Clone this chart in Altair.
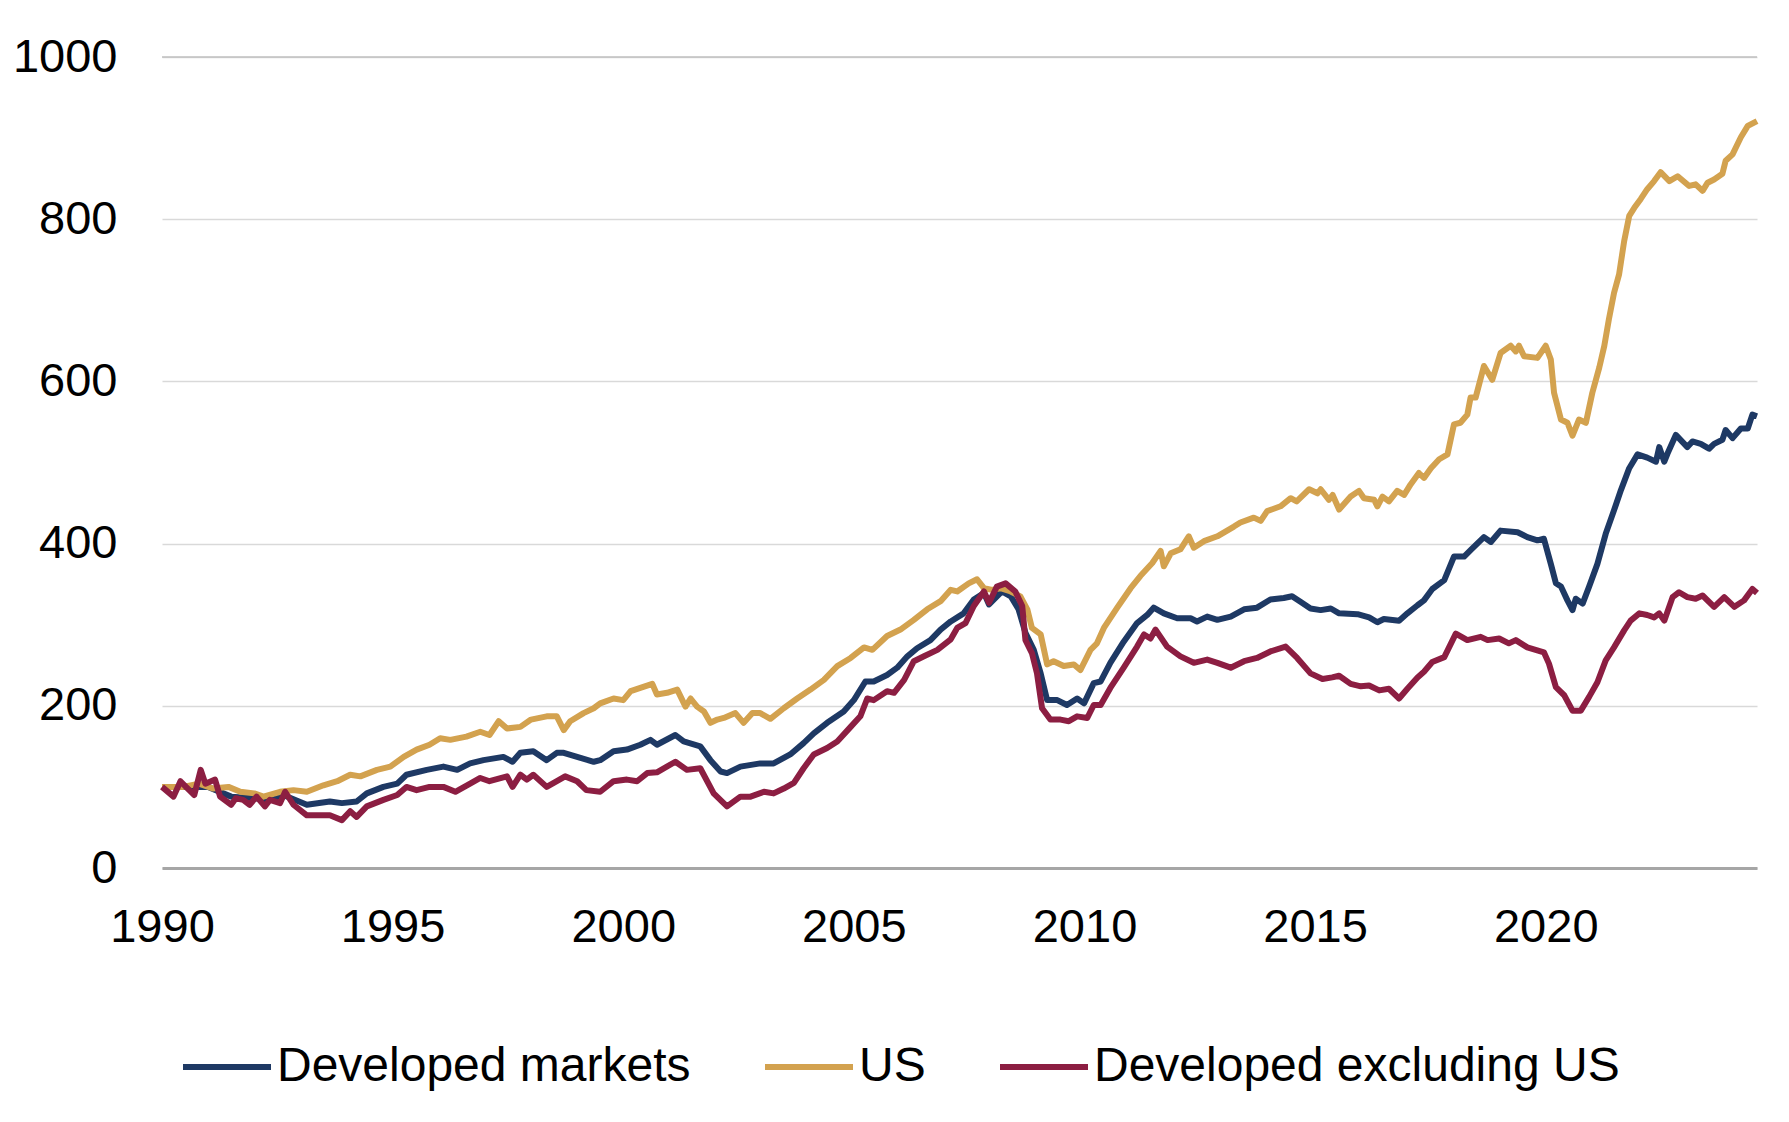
import pandas as pd
import altair as alt

# values (decimal year, index level)
dm_t = [1990.00, 1990.50, 1991.00, 1991.50, 1992.00, 1992.40, 1992.63, 1993.14, 1993.64, 1993.90,
        1994.22, 1994.44, 1994.80, 1995.10, 1995.30, 1995.74, 1996.10, 1996.40, 1996.68, 1996.97,
        1997.40, 1997.60, 1997.77, 1998.05, 1998.34, 1998.56, 1998.71, 1999.00, 1999.36, 1999.50,
        1999.79, 2000.08, 2000.37, 2000.59, 2000.73, 2001.13, 2001.31, 2001.67, 2001.89, 2002.11,
        2002.25, 2002.54, 2002.97, 2003.26, 2003.62, 2003.91, 2004.13, 2004.42, 2004.78, 2005.00,
        2005.25, 2005.43, 2005.72, 2005.94, 2006.16, 2006.37, 2006.66, 2006.88, 2007.10, 2007.38,
        2007.60, 2007.82, 2007.93, 2008.21, 2008.40, 2008.57, 2008.72, 2008.90, 2009.05, 2009.19,
        2009.41, 2009.62, 2009.84, 2009.99, 2010.20, 2010.35, 2010.56, 2010.85, 2011.14, 2011.36,
        2011.50, 2011.72, 2012.01, 2012.30, 2012.44, 2012.66, 2012.88, 2013.17, 2013.46, 2013.74,
        2014.03, 2014.32, 2014.50, 2014.69, 2014.90, 2015.12, 2015.34, 2015.52, 2015.92, 2016.17,
        2016.35, 2016.49, 2016.82, 2017.00, 2017.22, 2017.36, 2017.54, 2017.80, 2018.01, 2018.23,
        2018.37, 2018.66, 2018.81, 2019.02, 2019.39, 2019.60, 2019.82, 2019.96, 2020.11, 2020.22,
        2020.33, 2020.47, 2020.58, 2020.65, 2020.80, 2020.94, 2021.12, 2021.30, 2021.48, 2021.63,
        2021.81, 2021.99, 2022.20, 2022.39, 2022.46, 2022.57, 2022.64, 2022.82, 2023.07, 2023.18,
        2023.36, 2023.54, 2023.65, 2023.83, 2023.90, 2024.05, 2024.23, 2024.38, 2024.48, 2024.58]
dm_v = [100, 100, 100, 88, 86, 84, 90, 78, 82, 80,
        82, 92, 100, 104, 115, 121, 125, 121, 129, 133,
        137, 131, 142, 144, 133, 142, 142, 137, 131, 133,
        144, 146, 152, 158, 152, 164, 156, 150, 133, 119,
        117, 125, 129, 129, 140, 154, 166, 179, 193, 207,
        230, 230, 238, 247, 261, 271, 281, 294, 304, 314,
        331, 339, 325, 341, 335, 319, 290, 269, 240, 207,
        207, 201, 209, 203, 228, 230, 253, 279, 302, 312,
        321, 314, 308, 308, 304, 310, 306, 310, 319, 321,
        331, 333, 335, 328, 320, 318, 320, 314, 313, 309,
        303, 307, 305, 314, 324, 330, 344, 355, 384, 384,
        392, 408, 402, 416, 414, 408, 404, 406, 375, 351,
        347, 330, 318, 332, 326, 347, 375, 412, 441, 466,
        493, 510, 506, 501, 519, 501, 511, 534, 519, 526,
        523, 517, 523, 528, 540, 530, 542, 542, 559, 557]

us_t = [1990.00, 1990.46, 1990.80, 1991.10, 1991.44, 1991.70, 1992.00, 1992.20, 1992.56, 1992.85,
        1993.14, 1993.50, 1993.80, 1994.08, 1994.30, 1994.66, 1994.95, 1995.24, 1995.52, 1995.80,
        1996.03, 1996.25, 1996.60, 1996.90, 1997.10, 1997.30, 1997.48, 1997.77, 1998.00, 1998.34,
        1998.56, 1998.71, 1998.85, 1999.14, 1999.36, 1999.50, 1999.79, 2000.00, 2000.16, 2000.37,
        2000.63, 2000.73, 2000.95, 2001.17, 2001.35, 2001.46, 2001.60, 2001.75, 2001.89, 2002.04,
        2002.18, 2002.43, 2002.61, 2002.80, 2002.97, 2003.19, 2003.48, 2003.77, 2004.06, 2004.35,
        2004.64, 2004.93, 2005.22, 2005.40, 2005.72, 2006.01, 2006.30, 2006.59, 2006.88, 2007.10,
        2007.24, 2007.49, 2007.67, 2007.82, 2008.00, 2008.18, 2008.40, 2008.61, 2008.76, 2008.86,
        2009.05, 2009.19, 2009.33, 2009.55, 2009.77, 2009.91, 2010.13, 2010.27, 2010.42, 2010.71,
        2011.00, 2011.21, 2011.47, 2011.65, 2011.72, 2011.87, 2012.08, 2012.26, 2012.37, 2012.59,
        2012.88, 2013.24, 2013.38, 2013.67, 2013.82, 2013.96, 2014.25, 2014.47, 2014.60, 2014.87,
        2015.05, 2015.12, 2015.30, 2015.38, 2015.52, 2015.77, 2015.95, 2016.06, 2016.28, 2016.35,
        2016.46, 2016.60, 2016.78, 2016.93, 2017.07, 2017.25, 2017.36, 2017.51, 2017.69, 2017.87,
        2018.01, 2018.15, 2018.30, 2018.37, 2018.48, 2018.66, 2018.84, 2019.02, 2019.24, 2019.35,
        2019.42, 2019.53, 2019.82, 2020.00, 2020.11, 2020.18, 2020.33, 2020.47, 2020.58, 2020.72,
        2020.87, 2021.01, 2021.16, 2021.27, 2021.37, 2021.48, 2021.59, 2021.70, 2021.81, 2021.92,
        2022.06, 2022.20, 2022.35, 2022.49, 2022.68, 2022.86, 2023.11, 2023.25, 2023.40, 2023.51,
        2023.65, 2023.83, 2023.90, 2024.05, 2024.23, 2024.38, 2024.58]
us_v = [100, 100, 104, 98, 100, 94, 92, 88, 94, 96,
        94, 102, 107, 115, 113, 121, 125, 137, 146, 152,
        160, 158, 162, 168, 164, 181, 172, 174, 183, 187,
        187, 170, 181, 191, 197, 203, 209, 207, 218, 222,
        227, 214, 216, 220, 199, 209, 199, 193, 179, 183,
        185, 191, 179, 191, 191, 184, 197, 209, 220, 232,
        249, 259, 272, 269, 286, 294, 306, 319, 329, 343,
        341, 351, 356, 345, 343, 345, 341, 335, 319, 296,
        288, 251, 255, 249, 251, 244, 269, 277, 296, 321,
        345, 360, 376, 391, 372, 388, 393, 409, 395, 403,
        409, 421, 426, 432, 428, 440, 446, 456, 452, 467,
        462, 467, 454, 460, 442, 458, 465, 456, 454, 446,
        458, 452, 465, 460, 473, 487, 481, 493, 504, 510,
        547, 549, 559, 580, 580, 619, 602, 635, 644, 637,
        644, 631, 629, 644, 627, 586, 553, 549, 533, 553,
        549, 586, 617, 644, 677, 709, 732, 773, 804, 814,
        825, 837, 847, 858, 847, 853, 841, 843, 835, 845,
        849, 856, 872, 880, 901, 915, 921]

ex_t = [1990.00, 1990.25, 1990.40, 1990.52, 1990.70, 1990.84, 1990.94, 1991.15, 1991.26, 1991.50,
        1991.60, 1991.76, 1991.90, 1992.05, 1992.23, 1992.34, 1992.56, 1992.67, 1992.85, 1993.14,
        1993.64, 1993.90, 1994.08, 1994.22, 1994.44, 1994.80, 1995.10, 1995.30, 1995.52, 1995.80,
        1996.10, 1996.36, 1996.68, 1996.90, 1997.10, 1997.48, 1997.60, 1997.77, 1997.91, 1998.05,
        1998.34, 1998.56, 1998.74, 1999.00, 1999.20, 1999.50, 1999.79, 2000.08, 2000.30, 2000.52,
        2000.73, 2001.13, 2001.38, 2001.67, 2001.96, 2002.25, 2002.54, 2002.76, 2003.05, 2003.26,
        2003.48, 2003.70, 2003.91, 2004.13, 2004.42, 2004.64, 2004.93, 2005.14, 2005.29, 2005.43,
        2005.72, 2005.87, 2006.09, 2006.30, 2006.52, 2006.81, 2007.10, 2007.24, 2007.42, 2007.60,
        2007.82, 2007.93, 2008.10, 2008.29, 2008.50, 2008.65, 2008.72, 2008.86, 2008.97, 2009.08,
        2009.26, 2009.48, 2009.66, 2009.84, 2010.06, 2010.20, 2010.35, 2010.56, 2010.85, 2011.14,
        2011.29, 2011.43, 2011.54, 2011.79, 2012.08, 2012.37, 2012.66, 2012.88, 2013.17, 2013.46,
        2013.74, 2014.03, 2014.36, 2014.61, 2014.90, 2015.16, 2015.37, 2015.52, 2015.77, 2015.99,
        2016.17, 2016.39, 2016.60, 2016.82, 2017.00, 2017.22, 2017.36, 2017.54, 2017.80, 2018.05,
        2018.30, 2018.59, 2018.74, 2018.99, 2019.20, 2019.35, 2019.60, 2019.96, 2020.07, 2020.22,
        2020.40, 2020.58, 2020.76, 2020.94, 2021.12, 2021.30, 2021.48, 2021.70, 2021.84, 2022.03,
        2022.20, 2022.35, 2022.46, 2022.57, 2022.75, 2022.89, 2023.07, 2023.25, 2023.40, 2023.65,
        2023.87, 2024.09, 2024.30, 2024.48, 2024.58]
ex_v = [100, 88, 107, 100, 90, 121, 104, 109, 88, 78,
        86, 84, 78, 88, 76, 84, 80, 94, 78, 65,
        65, 59, 70, 63, 76, 84, 90, 100, 96, 100,
        100, 94, 104, 111, 107, 113, 100, 115, 109, 115,
        100, 107, 113, 107, 96, 94, 107, 109, 107, 117,
        118, 131, 121, 123, 92, 76, 88, 88, 94, 92,
        98, 105, 123, 140, 148, 156, 174, 187, 209, 207,
        218, 216, 232, 255, 261, 269, 282, 296, 302, 323,
        341, 327, 347, 351, 341, 323, 281, 265, 240, 197,
        183, 183, 181, 187, 185, 201, 201, 222, 247, 273,
        288, 283, 294, 273, 261, 253, 257, 253, 247, 255,
        259, 267, 273, 259, 240, 233, 235, 237, 227, 224,
        225, 219, 221, 209, 221, 235, 242, 254, 260, 289,
        281, 285, 281, 283, 277, 281, 272, 266, 252, 223,
        213, 194, 194, 211, 229, 256, 272, 293, 305, 314,
        312, 309, 314, 305, 334, 340, 334, 332, 336, 322,
        334, 322, 330, 344, 339]

names = ["Developed markets", "US", "Developed excluding US"]
colors = ["#1e3964", "#d3a24f", "#8c1e42"]
x_ticks = [1990, 1995, 2000, 2005, 2010, 2015, 2020]
y_ticks = [0, 200, 400, 600, 800, 1000]

frames = []
for name, t, v in zip(names, [dm_t, us_t, ex_t], [dm_v, us_v, ex_v]):
    frames.append(pd.DataFrame({"year": t, "value": v, "series": name}))
df = pd.concat(frames, ignore_index=True)

font = "Liberation Sans"

y_axis = alt.Axis(
    values=y_ticks,
    format="d",
    title=None,
    ticks=False,
    domain=False,
    gridColor="#d9d9d9",
    gridWidth=1.5,
    labelFontSize=47,
    labelPadding=45,
    labelColor="#000000",
    labelFlush=False,
)

lines = (
    alt.Chart(df)
    .mark_line(strokeWidth=6, strokeJoin="round")
    .encode(
        x=alt.X(
            "year:Q",
            scale=alt.Scale(domain=[1990, 2024.58], nice=False, zero=False),
            axis=alt.Axis(
                values=x_ticks,
                format="d",
                title=None,
                ticks=False,
                grid=False,
                domainColor="#a6a6a6",
                domainWidth=3,
                labelFontSize=47,
                labelPadding=36,
                labelColor="#000000",
                labelFlush=False,
            ),
        ),
        y=alt.Y("value:Q", scale=alt.Scale(domain=[0, 1000], nice=False), axis=y_axis),
        color=alt.Color(
            "series:N",
            sort=names,
            scale=alt.Scale(domain=names, range=colors),
            legend=alt.Legend(
                title=None,
                orient="none",
                legendX=18,
                legendY=963,
                direction="horizontal",
                symbolType="stroke",
                symbolSize=7744,
                symbolStrokeWidth=6,
                labelFontSize=48,
                labelLimit=1000,
                labelOffset=3,
                columnPadding=62,
                padding=0,
                labelColor="#000000",
            ),
        ),
    )
)

top_rule = (
    alt.Chart(pd.DataFrame({"level": [1000]}))
    .mark_rule(color="#c0c0c0", strokeWidth=1.5)
    .encode(y=alt.Y("level:Q", axis=y_axis))
)

chart = (
    alt.layer(lines, top_rule)
    .properties(
        width=1595,
        height=811,
        autosize=alt.AutoSizeParams(type="none"),
        padding={"left": 154, "top": 49, "right": 20, "bottom": 250},
    )
    .configure(font=font)
    .configure_view(stroke=None, strokeWidth=0)
)

chart.save("out.html", embed_options={"renderer": "svg", "actions": False})
